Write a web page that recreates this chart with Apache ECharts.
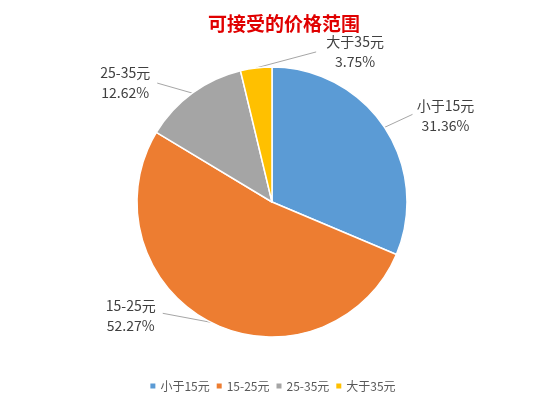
<!DOCTYPE html>
<html><head><meta charset="utf-8">
<script src="https://cdn.jsdelivr.net/npm/echarts@6/dist/echarts.min.js"></script>
<style>html,body{margin:0;padding:0;background:#fff}#c{width:544px;height:404px}</style>
</head><body><div id="c"></div>
<script>
const titleText = '可接受的价格范围';
const categories = ['小于15元', '15-25元', '25-35元', '大于35元'];
const values = [31.36, 52.27, 12.62, 3.75];
const colors = ['#5B9BD5', '#ED7D31', '#A5A5A5', '#FFC000'];
// leader-line end offsets from slice edge, and label centre offset from line end
const lineOffsets = [[28, -13], [-48, -9], [-35, -10], [60, -16]];
const labelOffsets = [[33, 1], [-32, 2], [-32, 0], [39, 0]];

const chart = echarts.init(document.getElementById('c'), null, {renderer: 'canvas'});
chart.setOption({
  backgroundColor: '#fff',
  animation: false,
  title: {
    text: titleText, left: 203, top: 9,
    textStyle: {color: '#E00000', fontSize: 19, fontWeight: 'bold', fontFamily: 'Noto Sans CJK SC'}
  },
  legend: {
    top: 375, left: 'center', itemWidth: 7, itemHeight: 7, itemGap: 5,
    icon: 'rect',
    textStyle: {color: '#595959', fontSize: 12, fontFamily: 'Noto Sans CJK SC', padding: [0, 0, 0, -1]},
    data: categories
  },
  color: colors,
  series: [{
    type: 'pie',
    center: [272, 202],
    radius: 135,
    startAngle: 90,
    clockwise: true,
    itemStyle: {borderColor: '#fff', borderWidth: 1.5},
    label: {
      show: true,
      formatter: p => '{a|' + p.name + '}\n{a|' + p.value.toFixed(2) + '%}',
      rich: {a: {width: 64, align: 'center', color: '#404040', fontSize: 14, lineHeight: 20, fontFamily: 'Noto Sans CJK SC'}}
    },
    labelLine: {show: true, length: 24, length2: 6, lineStyle: {color: '#A6A6A6', width: 1}},
    labelLayout: function (params) {
      const i = params.dataIndex;
      const p0 = params.labelLinePoints[0];
      const end = [p0[0] + lineOffsets[i][0], p0[1] + lineOffsets[i][1]];
      return {
        x: end[0] + labelOffsets[i][0], y: end[1] + labelOffsets[i][1],
        align: 'center', verticalAlign: 'middle',
        labelLinePoints: [p0, end, end]
      };
    },
    data: categories.map((c, i) => ({name: c, value: values[i]}))
  }]
});
</script></body></html>
